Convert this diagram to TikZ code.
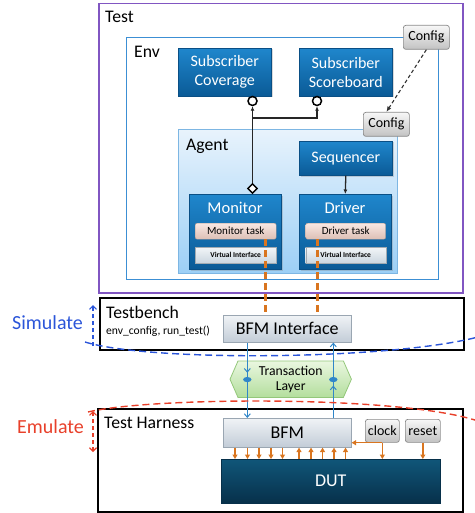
\documentclass[tikz,border=0pt]{standalone}
\usepackage{fontspec}
\setmainfont{Carlito}
\usetikzlibrary{arrows.meta,shapes.geometric,shadows,decorations.markings,backgrounds}
\definecolor{blueTop}{HTML}{1F86CC}
\definecolor{blueBot}{HTML}{0A5A96}
\definecolor{blueEdge}{HTML}{0A4F85}
\definecolor{agentTop}{HTML}{E8F3FC}
\definecolor{agentBot}{HTML}{9CCFF6}
\definecolor{agentEdge}{HTML}{7DB6E3}
\definecolor{purpleEdge}{HTML}{8156C2}
\definecolor{envEdge}{HTML}{3C8FD4}
\definecolor{orangeA}{HTML}{D9751F}
\definecolor{taskTop}{HTML}{F8E8E3}
\definecolor{taskBot}{HTML}{DDBFB5}
\definecolor{viTop}{HTML}{F2F5F8}
\definecolor{viBot}{HTML}{CAD6DF}
\definecolor{grayTop}{HTML}{F7F7F7}
\definecolor{grayBot}{HTML}{C2C2C2}
\definecolor{grayEdge}{HTML}{8A8A8A}
\definecolor{bfmTop}{HTML}{F0F3F6}
\definecolor{bfmBot}{HTML}{C2CCD7}
\definecolor{bfmEdge}{HTML}{9AA6B2}
\definecolor{greenTop}{HTML}{EAF7E0}
\definecolor{greenBot}{HTML}{B3DE9D}
\definecolor{greenEdge}{HTML}{93C77A}
\definecolor{dutTop}{HTML}{105679}
\definecolor{dutBot}{HTML}{07304A}
\definecolor{simBlue}{HTML}{2B55D9}
\definecolor{emuRed}{HTML}{E8402A}
\definecolor{arrowBlue}{HTML}{2F86C9}
\begin{document}
\begin{tikzpicture}[x=1pt,y=-1pt,
  box/.style={anchor=north west, inner sep=0pt, align=center},
  frame/.style={box, line width=1.7pt},
  head/.style={anchor=base west, inner sep=0pt, font=\fontsize{17.7}{20}\selectfont},
  bluebox/.style={box, draw=blueEdge, line width=0.6pt, top color=blueTop, bottom color=blueBot,
    text=white, font=\fontsize{16}{19}\selectfont,
    drop shadow={opacity=0.3, shadow xshift=1.2pt, shadow yshift=-1.2pt}},
  whitelbl/.style={anchor=base, inner sep=0pt, text=white, font=\fontsize{16.5}{19}\selectfont},
  agentbox/.style={box, draw=agentEdge, line width=0.8pt, top color=agentTop, bottom color=agentBot},
  task/.style={box, rounded corners=2pt, draw=taskBot!80!black, line width=0.4pt, top color=taskTop, bottom color=taskBot,
    font=\fontsize{11}{12}\selectfont},
  vibox/.style={box, draw=viBot!80!black, line width=0.4pt, top color=viTop, bottom color=viBot,
    font=\bfseries\fontsize{7.5}{8}\selectfont},
  cfg/.style={box, rounded corners=2.5pt, draw=grayEdge, line width=0.7pt, top color=grayTop, bottom color=grayBot,
    font=\fontsize{14}{15}\selectfont},
  bfmbox/.style={box, draw=bfmEdge, line width=0.6pt, top color=bfmTop, bottom color=bfmBot,
    font=\fontsize{18}{20}\selectfont,
    drop shadow={opacity=0.25, shadow xshift=1pt, shadow yshift=-1pt}},
  dutbox/.style={box, draw=dutBot, top color=dutTop, bottom color=dutBot, text=white,
    font=\fontsize{18}{20}\selectfont},
  lolli/.style={circle, draw=black, line width=1.5pt, fill=white, minimum size=9pt, inner sep=0pt},
  conn/.style={draw=black!85, line width=1.3pt, -{Latex[length=4.5pt,width=4pt]}},
  odash/.style={draw=orangeA, line width=3pt, dash pattern=on 7pt off 4pt},
  oarrow/.style={draw=orangeA, line width=1.5pt, -{Triangle[length=4.5pt,width=5pt]}},
  barrow/.style={draw=arrowBlue, line width=1pt, -{Straight Barb[length=3.5pt,width=6pt]}},
  simline/.style={draw=simBlue, line width=1.4pt, dash pattern=on 7pt off 4pt},
  emuline/.style={draw=emuRed, line width=1.4pt, dash pattern=on 7pt off 4pt},
]
\useasboundingbox (0,0) rectangle (474,513);

% ---------- Test / Env ----------
\node[frame, draw=purpleEdge, line width=1.5pt, minimum width=364pt, minimum height=289pt] (test) at (98,3) {};
\node[head] (testlbl) at (105,23) {Test};
\node[frame, draw=envEdge, line width=1.2pt, minimum width=312pt, minimum height=242pt] (env) at (126,37) {};
\node[head] (envlbl) at (134,58) {Env};
\node[cfg, minimum width=46pt, minimum height=24pt] (cfgA) at (403,25) {Config};
\node[bluebox, minimum width=93pt, minimum height=48pt] (subcov) at (178,48) {Subscriber\\Coverage};
\node[bluebox, minimum width=93pt, minimum height=48pt] (subsco) at (299,48) {Subscriber\\Scoreboard};

% ---------- Agent ----------
\node[agentbox, minimum width=219pt, minimum height=144pt] (agent) at (178,129) {};
\node[head] (agentlbl) at (186,150) {Agent};
\node[cfg, minimum width=46pt, minimum height=24pt] (cfgB) at (363,112) {Config};
\node[bluebox, minimum width=93pt, minimum height=34pt] (seq) at (299,141) {Sequencer};
\node[bluebox, minimum width=92pt, minimum height=75pt] (mon) at (189,194) {};
\node[whitelbl] (monlbl) at (235,213) {Monitor};
\node[task, minimum width=81pt, minimum height=16pt] (mtask) at (195,223) {Monitor task};
\node[vibox, minimum width=81pt, minimum height=16pt] (mvi) at (195,247) {Virtual Interface};
\node[bluebox, minimum width=92pt, minimum height=75pt] (drv) at (299,194) {};
\node[whitelbl] (drvlbl) at (345,213) {Driver};
\node[task, minimum width=80pt, minimum height=16pt] (dtask) at (305.5,223) {Driver task};
\node[vibox, minimum width=80pt, minimum height=16pt] (dvi) at (305.5,247) {Virtual Interface};

% lollipops and analysis connections
\node[lolli] (c1) at (252.5,101) {};
\node[lolli] (c2) at (317,101) {};
\node[diamond, draw=black, line width=1.4pt, fill=white, minimum size=10pt, inner sep=0pt] (dia) at (252.5,188.5) {};
\coordinate (junc) at (252.5,118);
\draw[conn] (dia.north) -- (c1.south);
\draw[conn] (junc) -| (c2.south);
\draw[conn] (seq.south) -- (drv.north);
\draw[draw=black!80, line width=1.1pt, dash pattern=on 3.5pt off 2.5pt, -{Latex[length=5.5pt,width=4.5pt]}] (cfgA.south) -- (cfgB.north);

% ---------- Testbench ----------
\node[frame, draw=black, minimum width=364pt, minimum height=52pt] (tb) at (99,297) {};
\node[head] (tblbl) at (106,318) {Testbench};
\node[anchor=base west, inner sep=0pt, font=\fontsize{11.6}{13}\selectfont] (tbsub) at (106,334) {env\_config, run\_test()};
\node[bfmbox, minimum width=128pt, minimum height=27pt] (bfmi) at (223,315) {BFM Interface};

% orange virtual interface links
\draw[odash] ([xshift=29.5pt]mtask.south) -- ([xshift=29.5pt]mtask.south |- bfmi.north);
\draw[odash] ([xshift=-28.5pt]dtask.south) -- ([xshift=-28.5pt]dtask.south |- bfmi.north);

% ---------- Transaction layer ----------
\node[box, minimum width=121pt, minimum height=36pt, font=\fontsize{13.7}{15}\selectfont] (tl) at (230,361) {Transaction\\Layer};
\begin{scope}[on background layer]
\path[draw=greenEdge, line width=0.8pt, top color=greenTop, bottom color=greenBot]
  (tl.west) -- ([xshift=8pt]tl.north west) -- ([xshift=-8pt]tl.north east) -- (tl.east)
  -- ([xshift=-8pt]tl.south east) -- ([xshift=8pt]tl.south west) -- cycle;
\end{scope}

% ---------- Test Harness ----------
\node[frame, draw=black, minimum width=365pt, minimum height=103pt] (th) at (97,408) {};
\node[head] (thlbl) at (104,428) {Test Harness};
\node[bfmbox, minimum width=128pt, minimum height=29pt] (bfm) at (223,418) {BFM};
\node[cfg, minimum width=34pt, minimum height=23pt] (clk) at (365,419) {clock};
\node[cfg, minimum width=35pt, minimum height=23pt] (rst) at (405,419) {reset};
\node[dutbox, minimum width=219pt, minimum height=44pt] (dut) at (221,459) {DUT};

% blue transaction arrows
\draw[barrow, postaction={decorate}, decoration={markings,
    mark=at position 0.40 with {\arrow{Straight Barb[length=3.5pt,width=6pt]}},
    mark=at position 0.49 with {\fill[arrowBlue] (0,0) ellipse (2.6pt and 4.2pt);}}]
  ([xshift=-40pt]bfmi.south) -- ([xshift=-40pt]bfmi.south |- bfm.north);
\draw[barrow, postaction={decorate}, decoration={markings,
    mark=at position 0.43 with {\arrow{Straight Barb[length=3.5pt,width=6pt]}},
    mark=at position 0.51 with {\fill[arrowBlue] (0,0) ellipse (2.6pt and 4.2pt);}}]
  ([xshift=46pt]bfm.north) -- ([xshift=46pt]bfm.north |- bfmi.south);

% orange pin arrows BFM <-> DUT
\foreach \x in {235,247.5,259,271,282.5} {
  \coordinate (px) at (\x,0);
  \draw[oarrow] (bfm.south -| px) -- (dut.north -| px);
}
\foreach \x in {299,311,322.5,334,345.5} {
  \coordinate (px) at (\x,0);
  \draw[oarrow] (dut.north -| px) -- (bfm.south -| px);
}
\draw[oarrow] (clk.south) -- (clk.south -| bfm.east);
\draw[oarrow] (clk.south) -- (clk.south |- dut.north);
\draw[oarrow] (rst.south) -- (rst.south |- dut.north);

% ---------- Simulate / Emulate ----------
\node[anchor=base west, inner sep=0pt, text=simBlue, font=\fontsize{20}{22}\selectfont] (simlbl) at (12,329) {Simulate};
\node[anchor=base west, inner sep=0pt, text=emuRed, font=\fontsize{20}{22}\selectfont] (emulbl) at (17,433) {Emulate};
\coordinate (simA) at (85,342);
\coordinate (simB) at (478,337);
\coordinate (simBot) at (93,346);
\coordinate (simTop) at (93,305);
\draw[simline] (simA) .. controls (150,362) and (390,360) .. (simB);
\draw[simline, line width=1.1pt, dash pattern=on 4pt off 3pt, -{Straight Barb[length=3.5pt,width=7pt]}] (simBot) -- (simTop);
\coordinate (emuA) at (88,412);
\coordinate (emuB) at (478,421);
\coordinate (emuTop) at (93,411);
\coordinate (emuBot) at (93,452);
\draw[emuline] (emuA) .. controls (150,397) and (400,395) .. (emuB);
\draw[emuline, line width=1.1pt, dash pattern=on 4pt off 3pt, {Straight Barb[length=3.5pt,width=7pt]}-{Straight Barb[length=3.5pt,width=7pt]}] (emuTop) -- (emuBot);
\end{tikzpicture}
\end{document}
